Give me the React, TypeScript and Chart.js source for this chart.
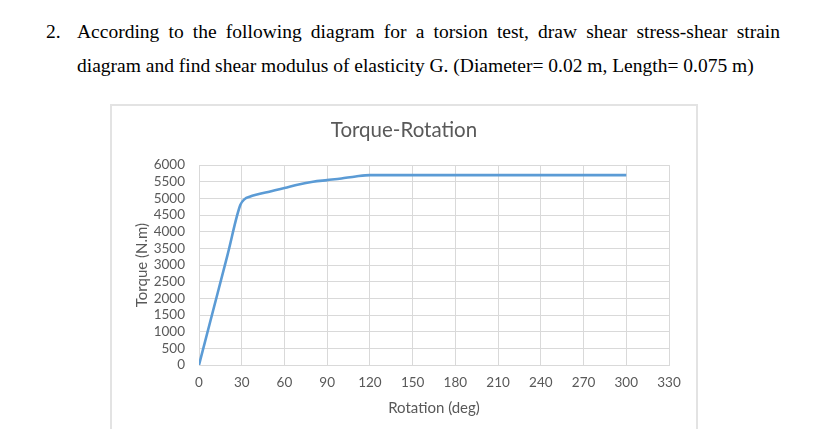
import { useEffect, useRef } from "react"
import { Chart, registerables } from "chart.js"

Chart.register(...registerables)

// readings taken off the torsion test curve
const rotationDeg = [0, 10, 20, 29, 32, 36, 40, 50, 60, 70, 80, 90, 100, 110, 120, 150, 180, 210, 240, 270, 300]
const torqueNm = [0, 1650, 3300, 4800, 4980, 5060, 5110, 5210, 5310, 5420, 5500, 5550, 5600, 5660, 5700, 5700, 5700, 5700, 5700, 5700, 5700]

const xTicks = [0, 30, 60, 90, 120, 150, 180, 210, 240, 270, 300, 330]
const yTicks = [0, 500, 1000, 1500, 2000, 2500, 3000, 3500, 4000, 4500, 5000, 5500, 6000]

const grey = "#d9d9d9"
const textGrey = "#595959"
const chartFont = "Lato, 'Open Sans', sans-serif"

function TorqueChart() {
  const chartRef = useRef<HTMLCanvasElement>(null)
  const chartInstance = useRef<Chart | null>(null)

  useEffect(() => {
    if (!chartRef.current) return
    if (chartInstance.current) chartInstance.current.destroy()
    const ctx = chartRef.current.getContext("2d")
    if (!ctx) return

    chartInstance.current = new Chart(ctx, {
      type: "line",
      data: {
        datasets: [
          {
            data: rotationDeg.map((x, i) => ({ x, y: torqueNm[i] })),
            borderColor: "#5b9bd5",
            borderWidth: 2.6,
            pointRadius: 0,
            cubicInterpolationMode: "monotone",
            fill: false,
          },
        ],
      },
      options: {
        responsive: true,
        maintainAspectRatio: false,
        animation: false,
        layout: { padding: 0 },
        plugins: {
          legend: { display: false },
          tooltip: { enabled: false },
          title: {
            display: true,
            text: "Torque-Rotation",
            color: textGrey,
            font: { family: chartFont, size: 20.5, weight: "normal" },
            padding: { top: 13.7, bottom: 22.8 },
          },
        },
        scales: {
          x: {
            type: "linear",
            min: 0,
            max: 330,
            afterBuildTicks: (s) => {
              s.ticks = xTicks.map((value) => ({ value }))
            },
            afterFit: (s) => {
              s.height = 64
            },
            grid: { color: grey, drawTicks: false },
            border: { color: grey },
            ticks: {
              color: textGrey,
              padding: 10,
              autoSkip: false,
              maxRotation: 0,
              callback: (v) => String(v),
              font: { family: chartFont, size: 13.5 },
            },
            title: {
              display: true,
              text: "Rotation (deg)",
              color: textGrey,
              font: { family: chartFont, size: 15 },
              padding: { top: 0, bottom: 12 },
            },
          },
          y: {
            min: 0,
            max: 6000,
            afterBuildTicks: (s) => {
              s.ticks = yTicks.map((value) => ({ value }))
            },
            afterFit: (s) => {
              s.width = 89
            },
            grid: { color: grey, drawTicks: false },
            border: { color: grey },
            ticks: {
              color: textGrey,
              padding: 14,
              autoSkip: false,
              callback: (v) => String(v),
              font: { family: chartFont, size: 13.5 },
            },
            title: {
              display: true,
              text: "Torque (N.m)",
              color: textGrey,
              font: { family: chartFont, size: 15 },
              padding: { top: 23, bottom: 0 },
            },
          },
          // empty strip on the right so the title centres on the whole box
          spacer: {
            type: "linear",
            position: "right",
            min: 0,
            max: 1,
            afterFit: (s) => {
              s.width = 29
            },
            grid: { display: false },
            border: { display: false },
            ticks: { display: false },
          },
        },
      },
    })

    return () => {
      if (chartInstance.current) {
        chartInstance.current.destroy()
        chartInstance.current = null
      }
    }
  }, [])

  return (
    <div style={{ position: "absolute", left: 110, top: 104, width: 588, height: 325 }}>
      <canvas ref={chartRef} />
    </div>
  )
}

export default function App() {
  const serif = "'Liberation Serif', 'Times New Roman', serif"
  return (
    <div style={{ position: "fixed", left: 0, top: 0, width: 822, height: 429, background: "#fff", overflow: "hidden" }}>
      <div style={{ position: "absolute", left: 46, top: 15.4, fontFamily: serif, fontSize: 19.5, lineHeight: "34px", color: "#000" }}>
        2.
      </div>
      <div style={{ position: "absolute", left: 77, top: 15.4, width: 703, fontFamily: serif, fontSize: 19.5, lineHeight: "34px", color: "#000" }}>
        <div style={{ textAlign: "justify", textAlignLast: "justify", whiteSpace: "nowrap" }}>
          According to the following diagram for a torsion test, draw shear stress-shear strain
        </div>
        <div style={{ whiteSpace: "nowrap" }}>
          diagram and find shear modulus of elasticity G. (Diameter= 0.02 m, Length= 0.075 m)
        </div>
      </div>
      <div
        style={{
          position: "absolute",
          left: 110,
          top: 104,
          width: 588,
          height: 340,
          border: "2px solid #e3e3e3",
          boxSizing: "border-box",
        }}
      />
      <TorqueChart />
    </div>
  )
}
